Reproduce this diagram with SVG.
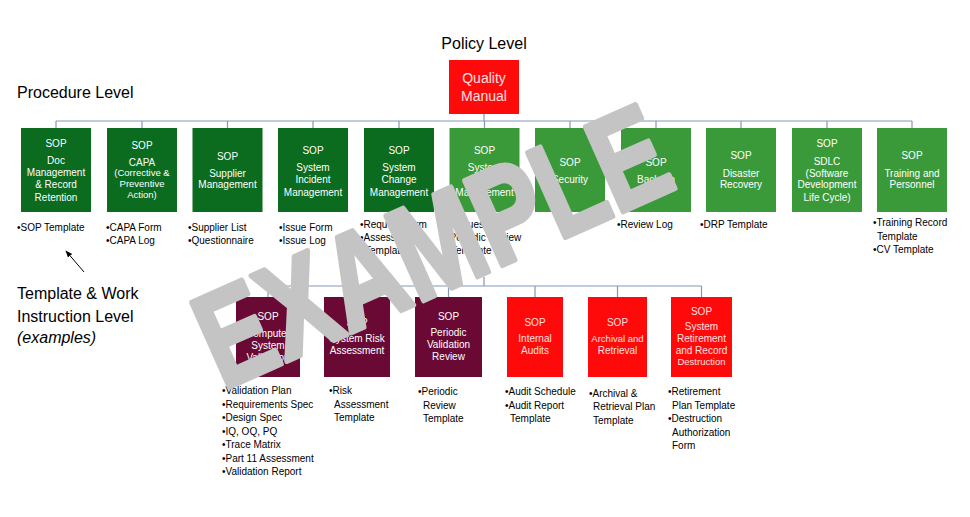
<svg xmlns="http://www.w3.org/2000/svg" width="970" height="517" viewBox="0 0 970 517">
<defs>
<style>
text{font-family:"Liberation Sans",Arial,sans-serif;}
.lvl{font-size:16px;fill:#000;}
.bt{font-size:10px;fill:#fff;text-anchor:middle;}
.rt{font-size:10px;fill:#ffe0e0;text-anchor:middle;}
.qm{font-size:14px;fill:#ffe0e0;text-anchor:middle;}
.sm{font-size:9.5px;}
.li{font-size:10px;fill:#000;}
.dg{fill:#0b6b1e;}
.mg{fill:#3a9a3a;}
.mr{fill:#6a0a34;}
.rd{fill:#ff0a0a;}
.con{stroke:#8498b4;stroke-width:1.2;fill:none;}
.wm{font-size:135px;font-weight:bold;fill:#c4c4c4;stroke:#c4c4c4;stroke-width:5;stroke-linejoin:round;}
</style>
<marker id="ah" viewBox="0 0 10 10" refX="9" refY="5" markerWidth="7" markerHeight="7" orient="auto">
<path d="M0,1 L10,5 L0,9 z" fill="#000"/>
</marker>
</defs>
<rect width="970" height="517" fill="#fff"/>

<g id="labels">
<text class="lvl" x="484" y="49" text-anchor="middle">Policy Level</text>
<text class="lvl" x="17" y="98">Procedure Level</text>
<text class="lvl" x="17" y="299">Template &amp; Work</text>
<text class="lvl" x="17" y="322">Instruction Level</text>
<text class="lvl" x="17" y="343" font-style="italic">(examples)</text>
</g>

<g id="connectors">
<path class="con" d="M484,114 V121 M56,121 H912 M56,121 V128 M142,121 V128 M227.5,121 V128 M313,121 V128 M399,121 V128 M484.5,121 V128 M570,121 V128 M656,121 V128 M741,121 V128 M827,121 V128 M912,121 V128"/>
<path class="con" d="M484,277 V286 M268,286 H701.5 M268,286 V297 M357,286 V297 M448.5,286 V297 M535,286 V297 M617.5,286 V297 M701.5,286 V297"/>
<line x1="84" y1="272" x2="66" y2="251" stroke="#000" stroke-width="1" marker-end="url(#ah)"/>
</g>

<g id="quality-manual">
<rect x="449" y="60" width="70" height="54" class="rd"/>
<text class="qm" x="484" y="83">Quality</text>
<text class="qm" x="484" y="101">Manual</text>
</g>

<g id="sop-doc">
<rect x="21" y="128" width="70" height="84" class="dg"/>
<text class="bt" x="56" y="146.5">SOP</text>
<text class="bt" x="56" y="163.5">Doc</text>
<text class="bt" x="56" y="176">Management</text>
<text class="bt" x="56" y="188">&amp; Record</text>
<text class="bt" x="56" y="200.5">Retention</text>
<text class="li" x="17" y="231">•SOP Template</text>
</g>

<g id="sop-capa">
<rect x="107" y="128" width="70" height="84" class="dg"/>
<text class="bt" x="142" y="148.5">SOP</text>
<text class="bt" x="142" y="165.5">CAPA</text>
<text class="bt sm" x="142" y="176">(Corrective &amp;</text>
<text class="bt sm" x="142" y="187">Preventive</text>
<text class="bt sm" x="142" y="198">Action)</text>
<text class="li" x="106" y="231">•CAPA Form</text>
<text class="li" x="106" y="244">•CAPA Log</text>
</g>

<g id="sop-supplier">
<rect x="192.5" y="128" width="70" height="84" class="dg"/>
<text class="bt" x="227.5" y="159.5">SOP</text>
<text class="bt" x="227.5" y="176.5">Supplier</text>
<text class="bt" x="227.5" y="188">Management</text>
<text class="li" x="188" y="231">•Supplier List</text>
<text class="li" x="188" y="244">•Questionnaire</text>
</g>

<g id="sop-incident">
<rect x="278" y="128" width="70" height="84" class="dg"/>
<text class="bt" x="313" y="153.5">SOP</text>
<text class="bt" x="313" y="170.5">System</text>
<text class="bt" x="313" y="183">Incident</text>
<text class="bt" x="313" y="195.5">Management</text>
<text class="li" x="279" y="231">•Issue Form</text>
<text class="li" x="279" y="244">•Issue Log</text>
</g>

<g id="sop-change">
<rect x="364" y="128" width="70" height="84" class="dg"/>
<text class="bt" x="399" y="153.5">SOP</text>
<text class="bt" x="399" y="170.5">System</text>
<text class="bt" x="399" y="183">Change</text>
<text class="bt" x="399" y="195.5">Management</text>
<text class="li" x="360" y="228">•Request Form</text>
<text class="li" x="360" y="241">•Assessment</text>
<text class="li" x="365" y="254">Template</text>
</g>

<g id="sop-access">
<rect x="449.5" y="128" width="70" height="84" class="mg"/>
<text class="bt" x="484.5" y="153.5">SOP</text>
<text class="bt" x="484.5" y="170.5">System</text>
<text class="bt" x="484.5" y="183">Access</text>
<text class="bt" x="484.5" y="195.5">Management</text>
<text class="li" x="446" y="228">•Request Form</text>
<text class="li" x="446" y="241">•Periodic Review</text>
<text class="li" x="451" y="254">Template</text>
</g>

<g id="sop-security">
<rect x="535" y="128" width="70" height="84" class="mg"/>
<text class="bt" x="570" y="165.5">SOP</text>
<text class="bt" x="570" y="183">Security</text>
</g>

<g id="sop-backup">
<rect x="621" y="128" width="70" height="84" class="mg"/>
<text class="bt" x="656" y="165.5">SOP</text>
<text class="bt" x="656" y="183">Back Up</text>
<text class="li" x="617" y="228">•Review Log</text>
</g>

<g id="sop-disaster">
<rect x="706" y="128" width="70" height="84" class="mg"/>
<text class="bt" x="741" y="158.5">SOP</text>
<text class="bt" x="741" y="176.5">Disaster</text>
<text class="bt" x="741" y="188">Recovery</text>
<text class="li" x="700" y="228">•DRP Template</text>
</g>

<g id="sop-sdlc">
<rect x="792" y="128" width="70" height="84" class="mg"/>
<text class="bt" x="827" y="146.5">SOP</text>
<text class="bt" x="827" y="164.5">SDLC</text>
<text class="bt" x="827" y="176.5">(Software</text>
<text class="bt" x="827" y="188">Development</text>
<text class="bt" x="827" y="200.5">Life Cycle)</text>
</g>

<g id="sop-training">
<rect x="877" y="128" width="70" height="84" class="mg"/>
<text class="bt" x="912" y="158.5">SOP</text>
<text class="bt" x="912" y="176.5">Training and</text>
<text class="bt" x="912" y="188">Personnel</text>
<text class="li" x="873" y="226">•Training Record</text>
<text class="li" x="877" y="240">Template</text>
<text class="li" x="873" y="253">•CV Template</text>
</g>

<g id="sop-csv">
<rect x="236" y="297" width="64" height="80" class="mr"/>
<text class="bt" x="268" y="319.5">SOP</text>
<text class="bt" x="268" y="336.5">Computer</text>
<text class="bt" x="268" y="348.5">System</text>
<text class="bt" x="268" y="360.5">Validation</text>
<text class="li" x="222" y="394">•Validation Plan</text>
<text class="li" x="222" y="407.5">•Requirements Spec</text>
<text class="li" x="222" y="421">•Design Spec</text>
<text class="li" x="222" y="434.5">•IQ, OQ, PQ</text>
<text class="li" x="222" y="448">•Trace Matrix</text>
<text class="li" x="222" y="461.5">•Part 11 Assessment</text>
<text class="li" x="222" y="475">•Validation Report</text>
</g>

<g id="sop-risk">
<rect x="324" y="297" width="66" height="80" class="mr"/>
<text class="bt" x="357" y="325.5">SOP</text>
<text class="bt" x="357" y="341.5">System Risk</text>
<text class="bt" x="357" y="353.5">Assessment</text>
<text class="li" x="329" y="394">•Risk</text>
<text class="li" x="334" y="408">Assessment</text>
<text class="li" x="334" y="421">Template</text>
</g>

<g id="sop-periodic">
<rect x="415" y="297" width="67" height="80" class="mr"/>
<text class="bt" x="448.5" y="319.5">SOP</text>
<text class="bt" x="448.5" y="335.5">Periodic</text>
<text class="bt" x="448.5" y="347.5">Validation</text>
<text class="bt" x="448.5" y="359.5">Review</text>
<text class="li" x="418" y="395">•Periodic</text>
<text class="li" x="423" y="409">Review</text>
<text class="li" x="423" y="422">Template</text>
</g>

<g id="sop-audits">
<rect x="507" y="297" width="56" height="80" class="rd"/>
<text class="rt" x="535" y="325.5">SOP</text>
<text class="rt" x="535" y="341.5">Internal</text>
<text class="rt" x="535" y="353.5">Audits</text>
<text class="li" x="505" y="395">•Audit Schedule</text>
<text class="li" x="505" y="409">•Audit Report</text>
<text class="li" x="510" y="422">Template</text>
</g>

<g id="sop-archival">
<rect x="588" y="297" width="59" height="80" class="rd"/>
<text class="rt" x="617.5" y="325.5">SOP</text>
<text class="rt sm" x="617.5" y="341.5">Archival and</text>
<text class="rt" x="617.5" y="353.5">Retrieval</text>
<text class="li" x="589" y="397">•Archival &amp;</text>
<text class="li" x="593" y="410">Retrieval Plan</text>
<text class="li" x="593" y="424">Template</text>
</g>

<g id="sop-retirement">
<rect x="671" y="297" width="61" height="80" class="rd"/>
<text class="rt" x="701.5" y="314.5">SOP</text>
<text class="rt" x="701.5" y="330">System</text>
<text class="rt" x="701.5" y="341.5">Retirement</text>
<text class="rt" x="701.5" y="353.5">and Record</text>
<text class="rt sm" x="701.5" y="365">Destruction</text>
<text class="li" x="668" y="395">•Retirement</text>
<text class="li" x="672" y="409">Plan Template</text>
<text class="li" x="668" y="422">•Destruction</text>
<text class="li" x="672" y="436">Authorization</text>
<text class="li" x="672" y="449">Form</text>
</g>

<g id="watermark">
<text class="wm" x="0" y="0" transform="translate(432,246) rotate(-24)" text-anchor="middle" dominant-baseline="central" textLength="500" lengthAdjust="spacingAndGlyphs">EXAMPLE</text>
</g>
</svg>
